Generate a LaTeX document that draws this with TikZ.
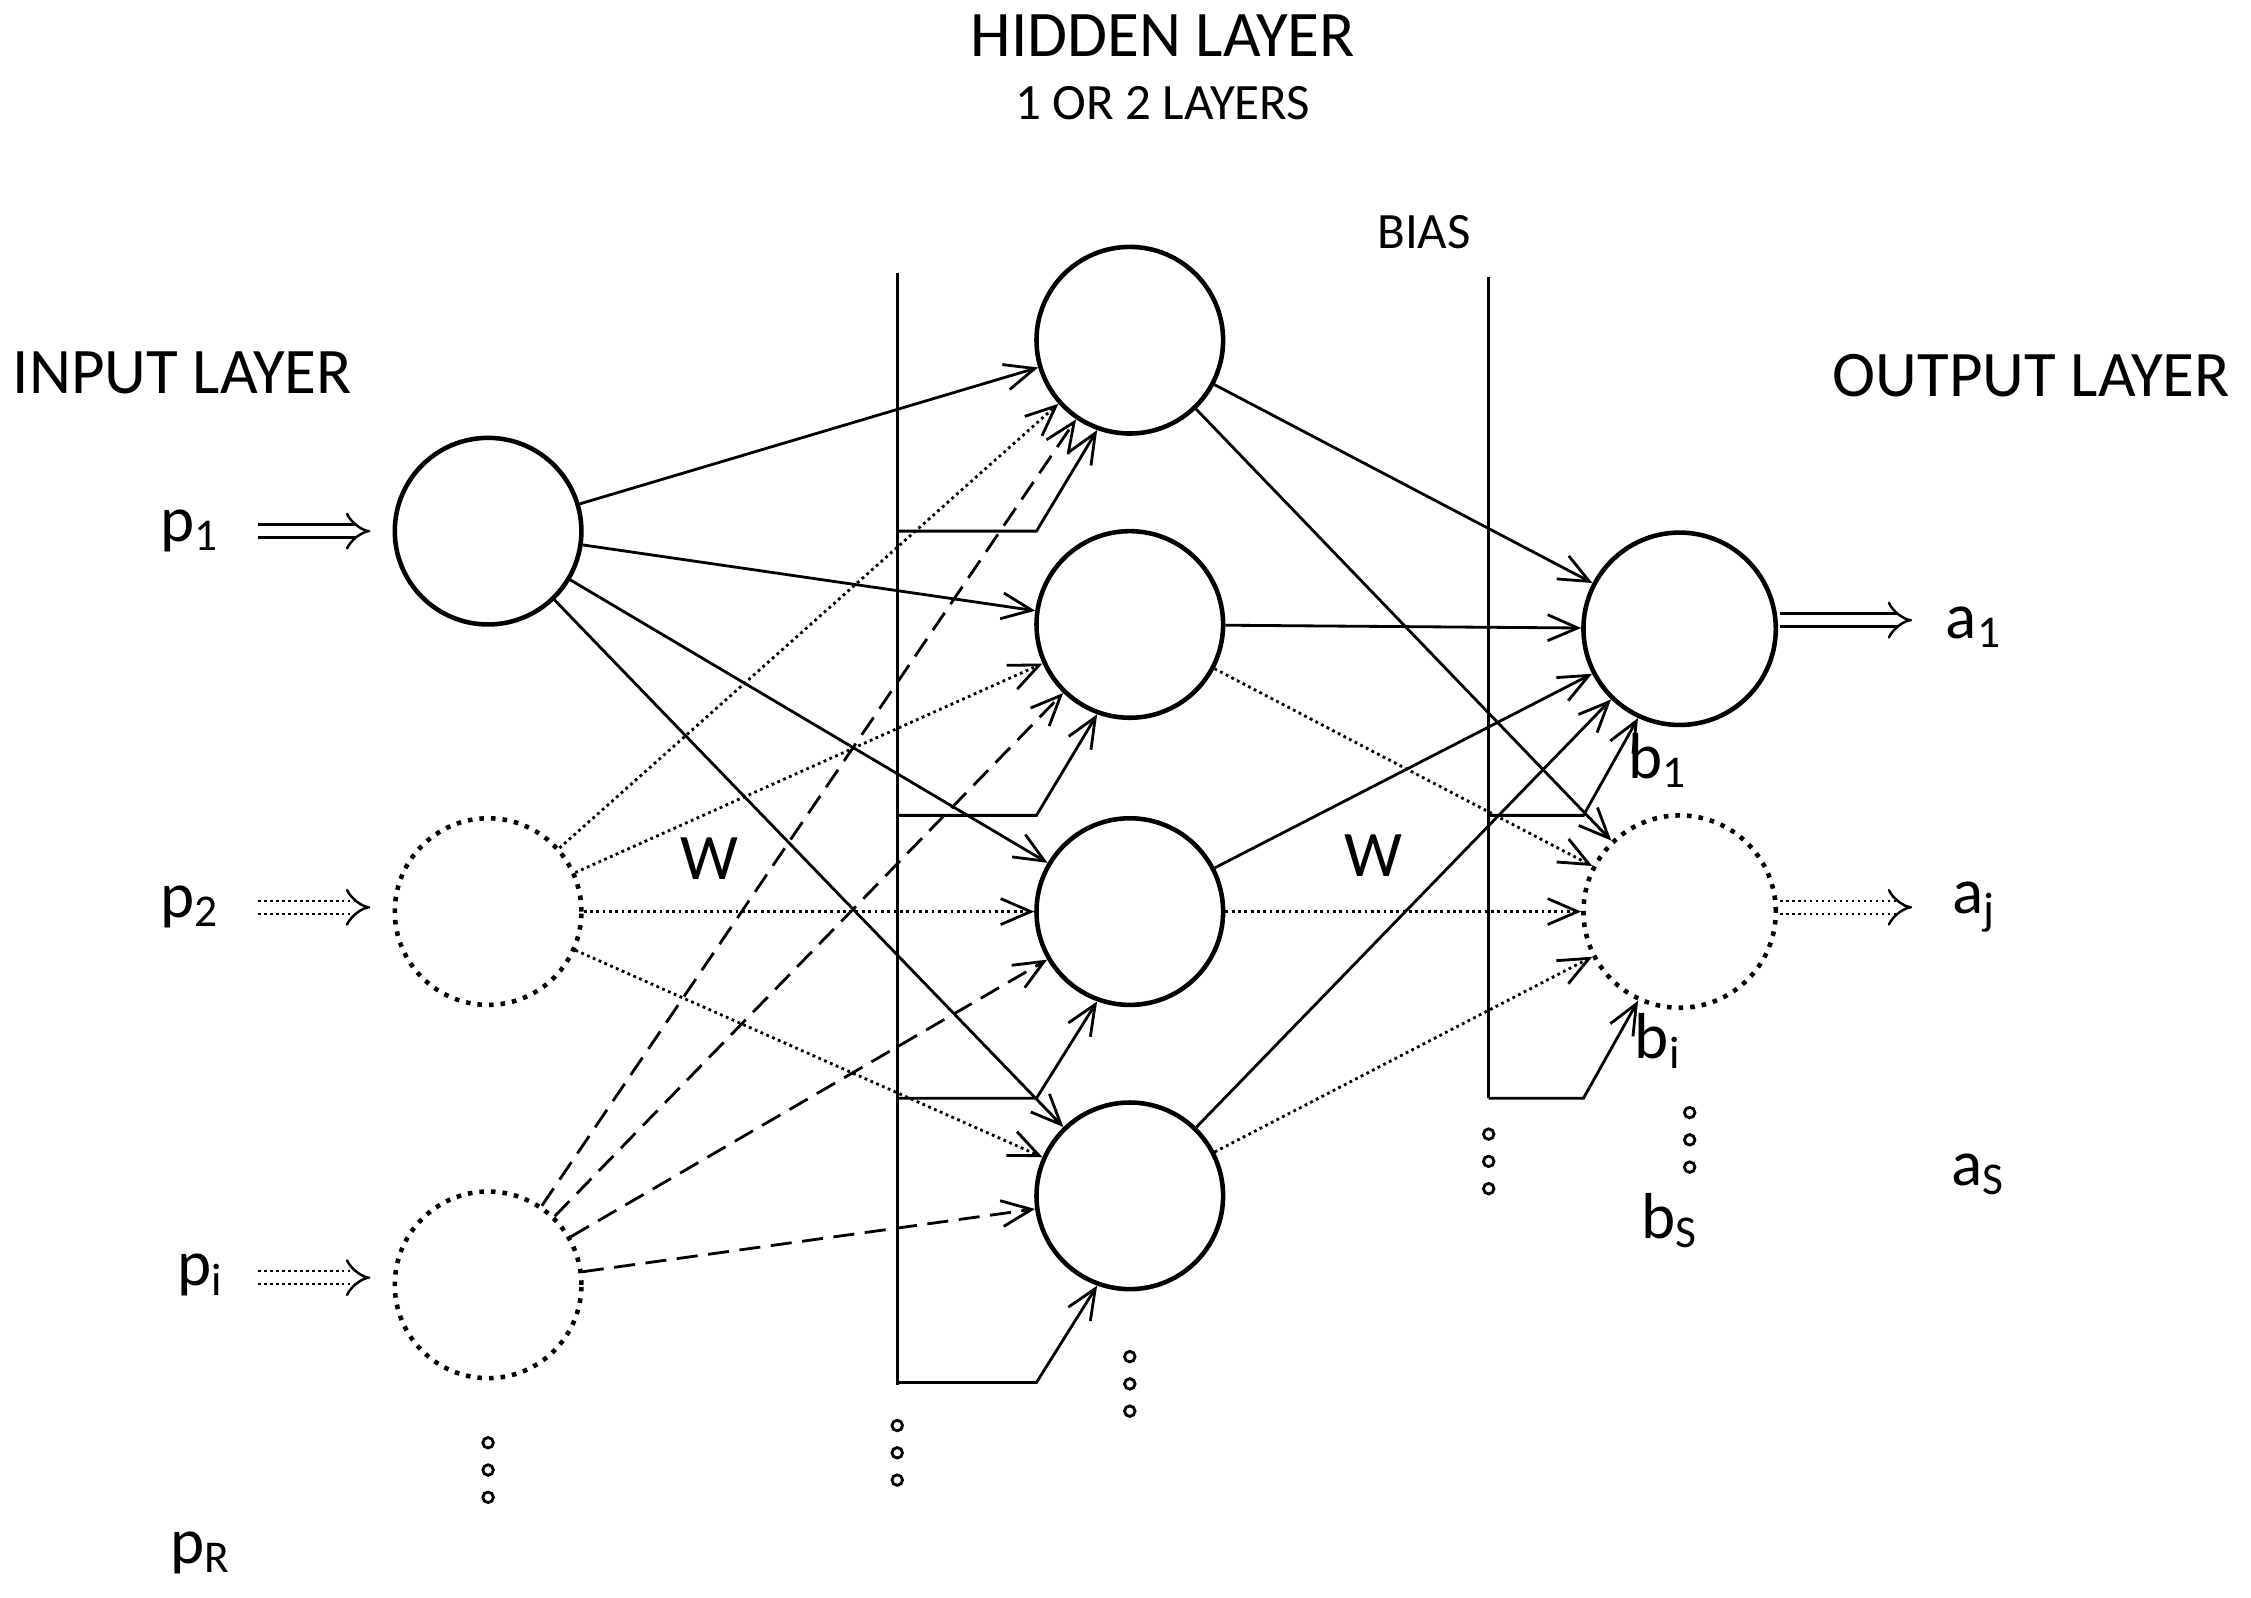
\documentclass[tikz,border=0pt]{standalone}
\usepackage{fontspec}
\setmainfont{Carlito}
\usetikzlibrary{arrows.meta}
\begin{document}
\begin{tikzpicture}[x=0.014356cm,y=-0.014356cm,
  neu/.style={circle,draw,line width=1.3pt,minimum size=130*0.014356cm,inner sep=0},
  dneu/.style={neu,dotted},
  ar/.style={-{Straight Barb[length=3mm,width=2.6mm]},line width=0.8pt},
  dar/.style={ar,densely dotted},
  dsh/.style={ar,dash pattern=on 6pt off 3pt},
  lab/.style={font=\fontsize{18.5}{22}\selectfont},
  sm/.style={font=\fontsize{14.5}{17}\selectfont},
  big/.style={-{Implies},double,double distance=3pt,line width=0.7pt},
  vd/.style={circle,draw,inner sep=0,minimum size=3pt,line width=0.8pt}]
\useasboundingbox (0,0) rectangle (1568,1113);
% nodes
\node[neu] (I1) at (340,370) {};
\node[dneu] (I2) at (340,635) {};
\node[dneu] (Ii) at (340,895) {};
\node[neu] (H1) at (787,237) {};
\node[neu] (H2) at (787,435) {};
\node[neu] (H3) at (787,635) {};
\node[neu] (H4) at (787,833) {};
\node[neu,minimum size=134*0.014356cm] (O1) at (1170,438) {};
\node[dneu,minimum size=134*0.014356cm] (Oj) at (1170,635) {};
% labels
\node[lab] (t1) at (810,25) {HIDDEN LAYER};
\node[sm] (t2) at (810,72) {1 OR 2 LAYERS};
\node[sm] (t3) at (992,162) {BIAS};
\node[lab] (t4) at (127,260) {INPUT LAYER};
\node[lab] (t5) at (1415,262) {OUTPUT LAYER};
\node[lab] (p1) at (132,370) {p\textsubscript{1}};
\node[lab] (p2) at (132,632) {p\textsubscript{2}};
\node[lab] (pi) at (140,888) {p\textsubscript{i}};
\node[lab] (pR) at (140,1082) {p\textsubscript{R}};
\node[lab] (w1) at (494,598) {W};
\node[lab] (w2) at (957,596) {W};
\node[lab] (a1) at (1375,437) {a\textsubscript{1}};
\node[lab] (aj) at (1375,632) {a\textsubscript{j}};
\node[lab] (aS) at (1378,818) {a\textsubscript{S}};
\node[lab] (b1) at (1155,530) {b\textsubscript{1}};
\node[lab] (bi) at (1155,725) {b\textsubscript{i}};
\node[lab] (bS) at (1163,850) {b\textsubscript{S}};
% input arrows
\coordinate (s1) at (180,370); \coordinate (e1) at (258,370);
\coordinate (s2) at (180,632); \coordinate (e2) at (258,632);
\coordinate (s3) at (180,890); \coordinate (e3) at (258,890);
\draw[big] (s1) -- (e1);
\draw[big,densely dotted] (s2) -- (e2);
\draw[big,densely dotted] (s3) -- (e3);
\coordinate (o1s) at (1240,432); \coordinate (o1e) at (1332,432);
\coordinate (ojs) at (1240,632); \coordinate (oje) at (1332,632);
\draw[big] (o1s) -- (o1e);
\draw[big,densely dotted] (ojs) -- (oje);
% vertical lines
\coordinate (v1a) at (625,190); \coordinate (v1b) at (625,965);
\coordinate (v2a) at (1037,193); \coordinate (v2b) at (1037,765);
\draw[line width=0.8pt] (v1a) -- (v1b);
\draw[line width=0.8pt] (v2a) -- (v2b);
% bias
\foreach \y/\n in {370/H1,568/H2,765/H3,963/H4}{
  \coordinate (bb\n) at (625,\y); \coordinate (bc\n) at (722,\y);
  \draw[ar] (bb\n) -- (bc\n) -- (\n.-110);
}
\coordinate (bbO1) at (1037,568); \coordinate (bcO1) at (1103,568);
\draw[ar] (bbO1) -- (bcO1) -- (O1.-115);
\coordinate (bbOj) at (1037,765); \coordinate (bcOj) at (1103,765);
\draw[ar] (bbOj) -- (bcOj) -- (Oj.-115);
% input to hidden
\foreach \h in {H1,H2,H3,H4}{
  \draw[ar] (I1) -- (\h);
  \draw[dar] (I2) -- (\h);
  \draw[dsh] (Ii) -- (\h);
}
% hidden to output
\foreach \h in {H1,H2,H3,H4}{ \draw[ar] (\h) -- (O1); }
\draw[ar] (H1) -- (Oj);
\foreach \h in {H2,H3,H4}{ \draw[dar] (\h) -- (Oj); }
% vertical dots
\foreach \x/\y in {340/1005,625/993,787/945,1037/790,1177/775}{
  \foreach \k in {0,1,2}{ \node[vd] (d\x\k) at (\x,\y+\k*19) {}; }
}
\end{tikzpicture}
\end{document}
